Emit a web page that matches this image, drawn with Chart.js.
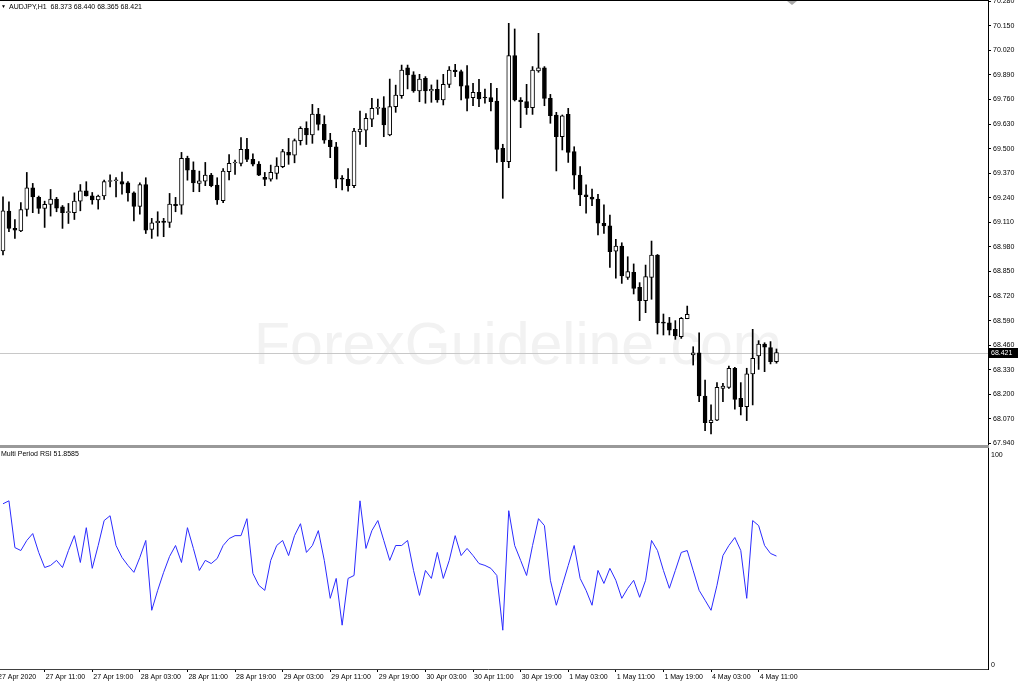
<!DOCTYPE html>
<html>
<head>
<meta charset="utf-8">
<script src="https://cdn.jsdelivr.net/npm/chart.js@4.4.1/dist/chart.umd.min.js"></script>
<style>
  html, body { margin:0; padding:0; width:1024px; height:683px; overflow:hidden; background:#fff; }
  canvas { position:absolute; z-index:1; }
  .txt { position:absolute; font-family:'Liberation Sans', Arial, sans-serif; color:#000; white-space:pre; z-index:2; }
  #wm { position:absolute; z-index:0; font-family:'Liberation Sans', Arial, sans-serif; font-size:59px; line-height:59px; color:#f2f2f2; right:242px; top:315px; white-space:pre; }
</style>
</head>
<body>
<div id="wm">ForexGuideline.com</div>
<div class="txt" style="left:1px;top:2px;font-size:5px;line-height:9px;">▼</div>
<div class="txt" id="title" style="left:9px;top:2px;font-size:7px;line-height:9px;"></div>
<div class="txt" id="rsiTitle" style="left:1px;top:449px;font-size:7px;line-height:9px;"></div>
<canvas id="priceChart" width="1036" height="448" style="left:-12px;top:0;width:1036px;height:448px;"></canvas>
<canvas id="rsiChart" width="1036" height="235" style="left:-12px;top:448px;width:1036px;height:235px;"></canvas>
<script>
// ---- data (AUDJPY H1) ----
const symbolName = 'AUDJPY,H1';
const opens = [68.959,69.169,69.078,69.065,69.178,69.293,69.242,69.183,69.205,69.233,
69.192,69.161,69.161,69.222,69.277,69.250,69.228,69.250,69.326,69.330,
69.326,69.319,69.266,69.194,69.310,69.072,69.108,69.116,69.109,69.205,
69.201,69.448,69.386,69.316,69.328,69.360,69.307,69.224,69.378,69.424,
69.422,69.496,69.443,69.418,69.348,69.339,69.369,69.404,69.480,69.466,
69.542,69.607,69.572,69.683,69.628,69.545,69.510,69.341,69.337,69.304,
69.589,69.598,69.656,69.713,69.716,69.572,69.722,69.780,69.928,69.890,
69.805,69.872,69.805,69.814,69.757,69.840,69.916,69.907,69.833,69.770,
69.798,69.771,69.770,69.752,69.502,69.431,69.992,69.757,69.749,69.717,
69.911,69.928,69.766,69.678,69.563,69.681,69.484,69.360,69.255,69.244,
69.233,69.105,69.091,68.958,68.985,68.819,68.845,68.766,68.696,68.819,
68.937,68.581,68.579,68.544,68.505,68.600,68.408,68.420,68.191,68.050,
68.064,68.232,68.237,68.338,68.179,68.135,68.308,68.403,68.466,68.447,
68.373];
const highs = [69.245,69.219,69.125,69.215,69.374,69.316,69.249,69.222,69.284,69.242,
69.199,69.210,69.266,69.310,69.325,69.268,69.254,69.333,69.362,69.347,
69.376,69.325,69.272,69.319,69.346,69.131,69.166,69.131,69.263,69.242,
69.480,69.460,69.430,69.381,69.427,69.369,69.346,69.395,69.469,69.439,
69.559,69.554,69.473,69.431,69.374,69.413,69.452,69.496,69.554,69.551,
69.616,69.642,69.734,69.713,69.674,69.581,69.533,69.357,69.395,69.607,
69.699,69.686,69.766,69.762,69.775,69.868,69.836,69.942,69.942,69.907,
69.893,69.881,69.837,69.863,69.893,69.934,69.946,69.916,69.939,69.845,
69.867,69.815,69.845,69.819,69.523,70.163,70.133,69.770,69.840,69.934,
70.110,69.934,69.787,69.692,69.678,69.713,69.510,69.405,69.308,69.286,
69.258,69.202,69.149,69.020,69.002,68.928,68.890,68.791,68.884,69.011,
68.940,68.625,68.607,68.590,68.607,68.667,68.452,68.526,68.276,68.144,
68.262,68.258,68.350,68.343,68.262,68.338,68.544,68.484,68.473,68.479,
68.440];
const lows = [68.937,69.060,69.025,69.060,69.143,69.161,69.157,69.083,69.143,69.166,
69.078,69.104,69.125,69.171,69.249,69.206,69.180,69.231,69.298,69.245,
69.259,69.222,69.118,69.153,69.051,69.025,69.037,69.034,69.083,69.166,
69.153,69.333,69.272,69.272,69.304,69.298,69.205,69.214,69.334,69.364,
69.409,69.431,69.409,69.357,69.304,69.328,69.339,69.399,69.417,69.425,
69.519,69.522,69.528,69.598,69.528,69.452,69.293,69.281,69.275,69.293,
69.522,69.510,69.616,69.681,69.563,69.568,69.692,69.766,69.816,69.798,
69.748,69.740,69.745,69.745,69.731,69.823,69.881,69.757,69.699,69.727,
69.722,69.740,69.699,69.427,69.237,69.399,69.752,69.611,69.681,69.681,
69.904,69.727,69.634,69.382,69.493,69.427,69.286,69.198,69.158,69.198,
69.043,69.052,68.872,68.814,68.787,68.808,68.731,68.590,68.632,68.703,
68.519,68.514,68.514,68.491,68.496,68.600,68.355,68.161,68.008,67.990,
68.061,68.161,68.232,68.121,68.091,68.061,68.144,68.332,68.320,68.361,
68.365];
const closes = [69.171,69.078,69.069,69.178,69.293,69.245,69.183,69.205,69.233,69.185,
69.161,69.162,69.222,69.277,69.250,69.228,69.249,69.326,69.330,69.332,
69.312,69.266,69.194,69.310,69.069,69.108,69.116,69.109,69.206,69.198,
69.448,69.386,69.319,69.330,69.360,69.304,69.228,69.381,69.422,69.427,
69.496,69.443,69.418,69.360,69.337,69.374,69.408,69.484,69.466,69.542,
69.607,69.572,69.683,69.628,69.545,69.510,69.339,69.339,69.304,69.593,
69.603,69.660,69.713,69.715,69.625,69.722,69.783,69.916,69.890,69.805,
69.868,69.805,69.814,69.757,69.840,69.916,69.907,69.831,69.766,69.798,
69.763,69.768,69.749,69.496,69.431,69.992,69.757,69.749,69.717,69.916,
69.928,69.766,69.674,69.563,69.673,69.480,69.360,69.255,69.246,69.233,
69.105,69.091,68.955,68.985,68.826,68.849,68.761,68.696,68.823,68.937,
68.579,68.577,68.540,68.509,68.602,68.623,68.420,68.191,68.050,68.064,
68.237,68.244,68.338,68.173,68.135,68.308,68.390,68.466,68.449,68.373,
68.421];
const rsiName = 'Multi Period RSI';
const rsiValues = [76.8,78.2,55.9,54.5,59.3,62.6,53.6,46.4,47.4,49.8,
46.4,54.5,61.6,48.8,65.4,46.0,56.9,68.8,71.1,56.9,
51.2,47.4,44.1,51.2,59.3,26.0,35.5,44.1,51.7,56.9,
48.8,65.4,55.5,45.0,49.8,48.3,50.7,56.9,60.2,61.6,
61.6,69.7,43.6,37.9,35.5,49.8,56.9,59.3,52.1,61.6,
67.3,53.6,56.9,64.0,49.8,31.7,41.2,18.9,41.2,42.6,
78.2,55.5,64.0,68.8,59.3,49.8,56.9,56.9,59.3,45.0,
33.1,45.0,41.2,53.6,41.2,49.8,61.6,52.1,55.5,52.1,
48.3,47.4,46.0,42.6,16.5,73.5,56.9,49.8,42.6,56.9,
69.7,66.4,40.3,28.4,37.9,47.4,56.9,41.2,35.5,28.4,
45.0,38.8,46.0,40.3,31.7,36.5,40.3,32.2,40.3,59.3,
54.5,45.0,36.5,45.0,53.6,54.5,45.0,35.5,30.8,26.0,
37.9,52.1,56.9,60.7,54.5,31.7,68.8,66.4,56.9,53.1,
51.8585];
const priceTicks = [67.940,68.070,68.200,68.330,68.460,68.590,68.720,68.850,68.980,69.110,
69.240,69.370,69.500,69.630,69.760,69.890,70.020,70.150,70.280];
const rsiTicks = [0, 100];
const timeLabels = ['27 Apr 2020','27 Apr 11:00','27 Apr 19:00','28 Apr 03:00','28 Apr 11:00','28 Apr 19:00',
'29 Apr 03:00','29 Apr 11:00','29 Apr 19:00','30 Apr 03:00','30 Apr 11:00','30 Apr 19:00',
'1 May 03:00','1 May 11:00','1 May 19:00','4 May 03:00','4 May 11:00'];
const timeLabelBar = [-1,7,15,23,31,39,47,55,63,71,79,87,95,103,111,119,127];

// ---- view ----
const xMin = -2.52, xMax = 165.55;       // visible bar range incl. right shift
const priceMin = 67.932, priceMax = 70.281;
const rsiMin = -2, rsiMax = 103.4;
const FONT = {family:"'Liberation Sans', Arial, sans-serif", size:7};

const n = closes.length;
const barIndex = closes.map((_, i) => i);
const last = n - 1;

document.getElementById('title').textContent =
  symbolName + '  ' + [opens[last], highs[last], lows[last], closes[last]].map(v => v.toFixed(3)).join(' ');
document.getElementById('rsiTitle').textContent = rsiName + ' ' + rsiValues[last].toFixed(4);

const pricePlugin = {
  id: 'priceFrame',
  beforeDatasetsDraw(chart) {
    const {ctx, chartArea: a, scales: {y}} = chart;
    const py = Math.round(y.getPixelForValue(closes[last])) + 0.5;
    ctx.save();
    ctx.strokeStyle = '#c8c8c8'; ctx.lineWidth = 1;
    ctx.beginPath(); ctx.moveTo(a.left, py); ctx.lineTo(a.right, py); ctx.stroke();
    ctx.restore();
  },
  afterDraw(chart) {
    const {ctx, chartArea: a, scales: {y}} = chart;
    ctx.save();
    ctx.fillStyle = '#000';
    ctx.fillRect(a.left, 0, a.right - a.left + 1, 1);
    ctx.fillStyle = '#999';
    ctx.fillRect(a.left, a.bottom, a.right - a.left + 1, 3);
    // bid label
    const py = Math.round(y.getPixelForValue(closes[last]));
    ctx.fillStyle = '#000';
    ctx.fillRect(a.right + 1, py - 5, 29, 10);
    ctx.fillStyle = '#fff';
    ctx.font = FONT.size + 'px ' + FONT.family;
    ctx.textBaseline = 'middle'; ctx.textAlign = 'left';
    ctx.fillText(closes[last].toFixed(3), a.right + 3, py + 0.5);
    // chart shift marker
    ctx.fillStyle = '#a8a8a8';
    ctx.beginPath(); ctx.moveTo(799, 1); ctx.lineTo(809, 1); ctx.lineTo(804, 5); ctx.closePath(); ctx.fill();
    ctx.restore();
  }
};

new Chart(document.getElementById('priceChart'), {
  type: 'bar',
  data: {
    datasets: [
      {
        label: 'body',
        data: barIndex.map(i => ({x: i, y: [opens[i], closes[i]]})),
        backgroundColor: ctx => (closes[ctx.dataIndex] >= opens[ctx.dataIndex] ? '#ffffff' : '#000000'),
        borderColor: '#000',
        borderWidth: 1,
        borderSkipped: false,
        barThickness: 4,
        minBarLength: 1,
        grouped: false
      },
      {
        label: 'wick',
        data: barIndex.map(i => ({x: i, y: [lows[i], highs[i]]})),
        backgroundColor: '#000',
        borderWidth: 0,
        barThickness: 1,
        grouped: false
      }
    ]
  },
  options: {
    responsive: false, animation: false, events: [],
    layout: {padding: {top: 1, bottom: 3, left: 0, right: 0}},
    plugins: {legend: {display: false}, tooltip: {enabled: false}},
    scales: {
      x: {type: 'linear', min: xMin, max: xMax, display: false, offset: false},
      y: {
        position: 'right', min: priceMin, max: priceMax,
        afterBuildTicks: s => { s.ticks = priceTicks.map(v => ({value: v})); },
        afterFit: s => { s.width = 36; s.paddingTop = 0; s.paddingBottom = 0; },
        ticks: {callback: v => Number(v).toFixed(3), font: FONT, color: '#000', padding: 2, autoSkip: false},
        grid: {drawOnChartArea: false, tickLength: 3, color: '#000', tickColor: '#000'},
        border: {display: true, color: '#000'}
      }
    }
  },
  plugins: [pricePlugin]
});

new Chart(document.getElementById('rsiChart'), {
  type: 'line',
  data: {
    datasets: [{
      label: rsiName,
      data: barIndex.map(i => ({x: i, y: rsiValues[i]})),
      borderColor: '#2b2bff', borderWidth: 1, pointRadius: 0, tension: 0, fill: false
    }]
  },
  options: {
    responsive: false, animation: false, events: [],
    layout: {padding: {top: 0, bottom: 0, left: 0, right: 0}},
    plugins: {legend: {display: false}, tooltip: {enabled: false}},
    scales: {
      x: {
        type: 'linear', min: xMin, max: xMax, offset: false,
        afterBuildTicks: s => { s.ticks = timeLabelBar.map(v => ({value: v})); },
        afterFit: s => { s.height = 14; s.paddingLeft = 0; s.paddingRight = 0; },
        ticks: {callback: (v, k) => timeLabels[k], align: 'start', maxRotation: 0, minRotation: 0,
                autoSkip: false, font: FONT, color: '#000', padding: 1, labelOffset: 1},
        grid: {drawOnChartArea: false, tickLength: 3, color: '#000', tickColor: '#000'},
        border: {display: true, color: '#404040'}
      },
      y: {
        position: 'right', min: rsiMin, max: rsiMax,
        afterBuildTicks: s => { s.ticks = rsiTicks.map(v => ({value: v})); },
        afterFit: s => { s.width = 36; s.paddingTop = 0; s.paddingBottom = 0; },
        ticks: {callback: v => String(v), font: FONT, color: '#000', padding: 3, autoSkip: false},
        grid: {drawOnChartArea: false, drawTicks: false},
        border: {display: true, color: '#000'}
      }
    }
  }
});
</script>
</body>
</html>
